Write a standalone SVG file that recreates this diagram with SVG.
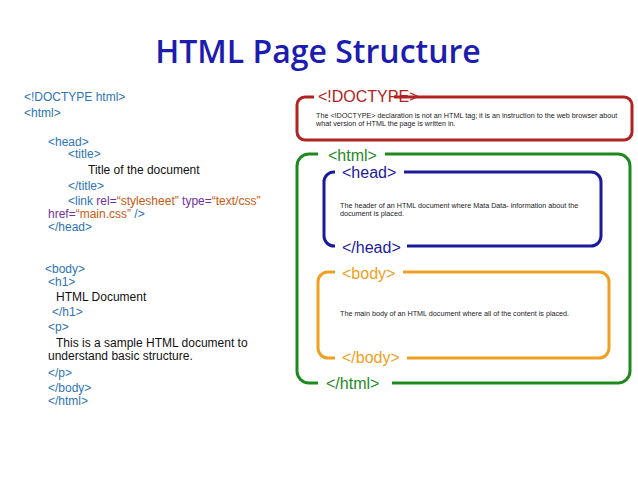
<svg xmlns="http://www.w3.org/2000/svg" width="638" height="478" viewBox="0 0 638 478">
<style>
.c{font-family:"Liberation Sans",Arial,sans-serif;font-size:12px}
.t{fill:#2e74b5}.k{fill:#111}.a{fill:#7030a0}.v{fill:#c55a11}
.d{font-family:"Liberation Sans",Arial,sans-serif;font-size:7.2px;fill:#222}
.l{font-family:"Liberation Sans",Arial,sans-serif;font-size:16px}
.bx{fill:none;stroke-width:3}
</style>
<rect width="638" height="478" fill="#fff"/>
<text x="318" y="63" text-anchor="middle" font-family="'Open Sans',sans-serif" font-size="32" font-weight="600" fill="#1c1cb0">HTML Page Structure</text>
<g id="code" class="c">
<text x="24" y="101" class="t">&lt;!DOCTYPE html&gt;</text>
<text x="24" y="117" class="t">&lt;html&gt;</text>
<text x="48" y="146" class="t">&lt;head&gt;</text>
<text x="68" y="158" class="t">&lt;title&gt;</text>
<text x="88" y="174" class="k">Title of the document</text>
<text x="68" y="190" class="t">&lt;/title&gt;</text>
<text x="68" y="205"><tspan class="t">&lt;link </tspan><tspan class="a">rel=</tspan><tspan class="v">“stylesheet”</tspan><tspan class="a">  type=</tspan><tspan class="v">“text/css”</tspan></text>
<text x="48" y="218"><tspan class="a">href=</tspan><tspan class="v">“main.css”</tspan><tspan class="t"> /&gt;</tspan></text>
<text x="48" y="231" class="t">&lt;/head&gt;</text>
<text x="45" y="273" class="t">&lt;body&gt;</text>
<text x="48" y="286" class="t">&lt;h1&gt;</text>
<text x="56" y="301" class="k">HTML Document</text>
<text x="52" y="316" class="t">&lt;/h1&gt;</text>
<text x="48" y="331" class="t">&lt;p&gt;</text>
<text x="56" y="347" class="k">This is a sample HTML document to</text>
<text x="48" y="360" class="k">understand basic structure.</text>
<text x="48" y="377" class="t">&lt;/p&gt;</text>
<text x="48" y="392" class="t">&lt;/body&gt;</text>
<text x="48" y="405" class="t">&lt;/html&gt;</text>
</g>
<g id="doctype">
<rect x="297" y="97" width="335" height="43" rx="8" class="bx" stroke="#b22222"/>
<rect x="314" y="90" width="80" height="12" fill="#fff"/>
<text x="318" y="102" class="l" font-size="11.5" fill="#b22222">&lt;!DOCTYPE&gt;</text>
<text x="316" y="118" class="d">The &lt;!DOCTYPE&gt; declaration is not an HTML tag; it is an instruction to the web browser about</text>
<text x="316" y="126" class="d">what version of HTML the page is written in.</text>
</g>
<g id="html">
<rect x="297" y="154" width="333" height="229" rx="12" class="bx" stroke="#1e8a1e"/>
<rect x="318" y="145" width="67" height="16" fill="#fff"/>
<text x="328" y="161" class="l" fill="#1e8a1e">&lt;html&gt;</text>
<rect x="318" y="376" width="74" height="16" fill="#fff"/>
<text x="326" y="389" class="l" fill="#1e8a1e">&lt;/html&gt;</text>
</g>
<g id="head">
<rect x="324" y="172" width="277" height="74" rx="10" class="bx" stroke="#1a1a9c"/>
<rect x="335" y="163" width="69" height="16" fill="#fff"/>
<text x="342" y="178" class="l" fill="#1a1a9c">&lt;head&gt;</text>
<rect x="335" y="238" width="72" height="16" fill="#fff"/>
<text x="342" y="253" class="l" fill="#1a1a9c">&lt;/head&gt;</text>
<text x="340" y="208" class="d">The header of an HTML document where Mata Data- information about the</text>
<text x="340" y="216" class="d">document is placed.</text>
</g>
<g id="body">
<rect x="318" y="272" width="291" height="86" rx="10" class="bx" stroke="#f0a020"/>
<rect x="335" y="264" width="68" height="16" fill="#fff"/>
<text x="342" y="279" class="l" fill="#f0a020">&lt;body&gt;</text>
<rect x="335" y="350" width="72" height="16" fill="#fff"/>
<text x="342" y="363" class="l" fill="#f0a020">&lt;/body&gt;</text>
<text x="340" y="316" class="d">The main body of an HTML document where all of the content is placed.</text>
</g>
<g id="connectors"/>
</svg>
